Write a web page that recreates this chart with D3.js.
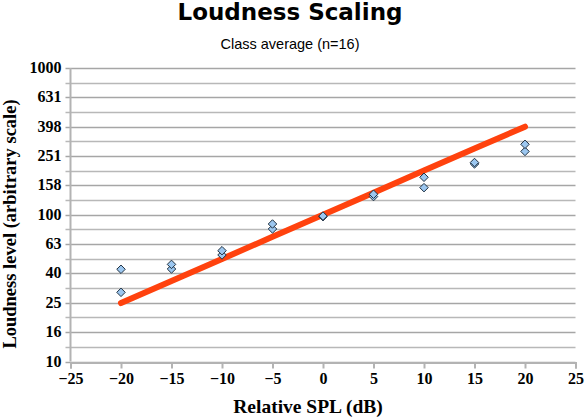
<!DOCTYPE html>
<html>
<head>
<meta charset="utf-8">
<script src="https://cdn.jsdelivr.net/npm/d3@7"></script>
<style>
  body { margin: 0; background: #fff; }
  svg { display: block; }
</style>
</head>
<body>
<div id="chart"></div>
<script>
// values
const splLevels = [-20, -15, -10, -5, 0, 5, 10, 15, 20]
const loudnessA = [42.5, 45.9, 56.9, 86.5, 98, 138, 180, 227, 302]
const loudnessB = [29.6, 42.7, 53.2, 80, 97, 133, 153, 222, 270]
const fitLine = [25, 35.4, 50, 70.7, 100, 141, 200, 283, 398]
const yTickLabels = ["10", "16", "25", "40", "63", "100", "158", "251", "398", "631", "1000"]
const xTickValues = [-25, -20, -15, -10, -5, 0, 5, 10, 15, 20, 25]

const width = 585, height = 417
const margin = {top: 68, right: 10, bottom: 56, left: 70}

const svg = d3.select("#chart").append("svg")
    .attr("width", width)
    .attr("height", height)

const x = d3.scaleLinear().domain([-25, 25]).range([margin.left + 0.5, width - margin.right + 0.5])
const y = d3.scaleLog().domain([10, 1000]).range([height - margin.bottom + 0.5, margin.top])

// grid: a line every 0.1 decade, labels every 0.2
let gridVals = d3.range(0, 21).map(i => Math.pow(10, 1 + i / 10))

svg.append("g").selectAll("line")
    .data(gridVals)
    .enter().append("line")
    .attr("x1", x(-25) - 5)
    .attr("x2", x(25))
    .attr("y1", d => Math.round(y(d)) + 0.5)
    .attr("y2", d => Math.round(y(d)) + 0.5)
    .attr("stroke", (d, i) => i % 2 == 0 ? "#a6a6a6" : "#b8b8b8")
    .attr("stroke-width", 1.6)

// y axis line
svg.append("line")
    .attr("x1", x(-25)).attr("x2", x(-25))
    .attr("y1", y(1000)).attr("y2", y(10))
    .attr("stroke", "#b3b3b3").attr("stroke-width", 2)

// x axis
const xAxis = d3.axisBottom(x).tickValues(xTickValues).tickSize(6).tickPadding(4)
const gx = svg.append("g")
    .attr("transform", `translate(0,${Math.round(y(10)) + 0.5})`)
    .call(xAxis)
gx.select(".domain").attr("stroke", "#b3b3b3").attr("stroke-width", 2)
gx.selectAll(".tick line").attr("stroke", "#b3b3b3").attr("stroke-width", 2)
gx.selectAll("text")
    .attr("font-family", "Liberation Serif")
    .attr("font-weight", "bold")
    .attr("font-size", 16)
    .attr("fill", "#000")

// y tick labels
svg.append("g").selectAll("text")
    .data(yTickLabels)
    .enter().append("text")
    .attr("x", x(-25) - 9)
    .attr("y", (d, i) => y(Math.pow(10, 1 + i / 5)) + 5)
    .attr("text-anchor", "end")
    .attr("font-family", "Liberation Serif")
    .attr("font-weight", "bold")
    .attr("font-size", 16)
    .text(d => d)

// fitted line
const line = d3.line()
    .x((d, i) => x(splLevels[i]))
    .y(d => y(d))
svg.append("path")
    .datum(fitLine)
    .attr("d", line)
    .attr("fill", "none")
    .attr("stroke", "#ff420e")
    .attr("stroke-width", 6)
    .attr("stroke-linecap", "round")

// data points
const diamond = d3.symbol().type(d3.symbolDiamond2).size(46)
function drawPoints(vals) {
    svg.append("g").selectAll("path")
        .data(vals)
        .enter().append("path")
        .attr("d", diamond)
        .attr("transform", (d, i) => `translate(${x(splLevels[i])},${y(d)})`)
        .attr("fill", "#9cc7f0")
        .attr("stroke", "#1f3040")
        .attr("stroke-width", 1)
}
drawPoints(loudnessB)
drawPoints(loudnessA)

// titles
svg.append("text")
    .attr("x", 290).attr("y", 20)
    .attr("text-anchor", "middle")
    .attr("font-family", "DejaVu Sans")
    .attr("font-weight", "bold")
    .attr("font-size", 23)
    .text("Loudness Scaling")

svg.append("text")
    .attr("x", 290).attr("y", 49)
    .attr("text-anchor", "middle")
    .attr("font-family", "Liberation Sans")
    .attr("font-size", 14.5)
    .text("Class average (n=16)")

svg.append("text")
    .attr("x", 308).attr("y", 413)
    .attr("text-anchor", "middle")
    .attr("font-family", "Liberation Serif")
    .attr("font-weight", "bold")
    .attr("font-size", 19.5)
    .text("Relative SPL (dB)")

svg.append("text")
    .attr("transform", "translate(15.5,224) rotate(-90)")
    .attr("text-anchor", "middle")
    .attr("font-family", "Liberation Serif")
    .attr("font-weight", "bold")
    .attr("font-size", 18.5)
    .text("Loudness level (arbitrary scale)")
</script>
</body>
</html>
